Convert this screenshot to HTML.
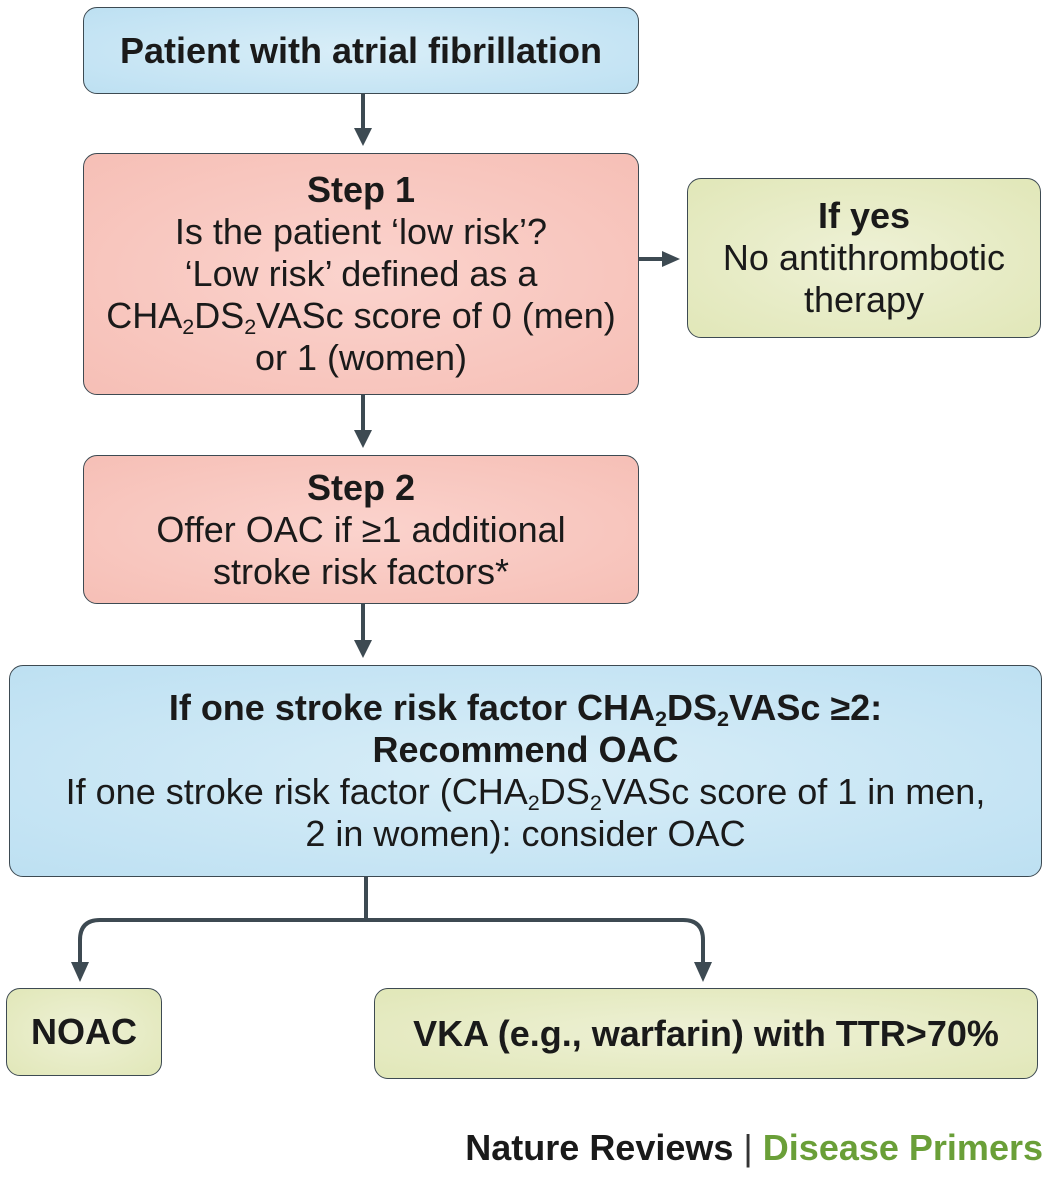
<!DOCTYPE html>
<html><head><meta charset="utf-8"><style>
body{margin:0;width:1050px;height:1177px;background:#fff;position:relative;overflow:hidden;font-family:"Liberation Sans",sans-serif;color:#1a1a1a}
.b{position:absolute;box-sizing:border-box;border:1.5px solid #3d4a52;border-radius:14px;display:flex;justify-content:center;align-items:center;text-align:center;font-size:36px;line-height:42px}
.b>div{white-space:nowrap}
.blue{background:radial-gradient(ellipse at center,#d9eef8,#bde0f2)}
.pink{background:radial-gradient(ellipse at center,#fbd3cd,#f6bfb6)}
.green{background:radial-gradient(ellipse at center,#eef1d6,#e1e7b8)}
b{font-weight:bold}
sub{font-size:60%;vertical-align:-6px;line-height:0}
</style></head><body>
<div class="b blue" style="left:83px;top:7px;width:556px;height:87px"><div><b>Patient with atrial fibrillation</b></div></div>
<div class="b pink" style="left:83px;top:153px;width:556px;height:242px"><div><b>Step 1</b><br>Is the patient ‘low risk’?<br>‘Low risk’ defined as a<br>CHA<sub>2</sub>DS<sub>2</sub>VASc score of 0 (men)<br>or 1 (women)</div></div>
<div class="b green" style="left:687px;top:178px;width:354px;height:160px"><div><b>If yes</b><br>No antithrombotic<br>therapy</div></div>
<div class="b pink" style="left:83px;top:455px;width:556px;height:149px"><div><b>Step 2</b><br>Offer OAC if ≥1 additional<br>stroke risk factors*</div></div>
<div class="b blue" style="left:9px;top:665px;width:1033px;height:212px"><div><b>If one stroke risk factor CHA<sub>2</sub>DS<sub>2</sub>VASc ≥2:<br>Recommend OAC</b><br>If one stroke risk factor (CHA<sub>2</sub>DS<sub>2</sub>VASc score of 1 in men,<br>2 in women): consider OAC</div></div>
<div class="b green" style="left:6px;top:988px;width:156px;height:88px"><div><b>NOAC</b></div></div>
<div class="b green" style="left:374px;top:988px;width:664px;height:91px"><div><b>VKA (e.g., warfarin) with TTR&gt;70%</b></div></div>
<div style="position:absolute;right:7px;top:1127px;font-size:36px;font-weight:bold;white-space:nowrap"><span style="color:#1a1a1a">Nature Reviews</span> <span style="font-weight:normal;color:#333">|</span> <span style="color:#6a9f38">Disease Primers</span></div>
<svg width="1050" height="1177" style="position:absolute;left:0;top:0" fill="#3d4a52" stroke="#3d4a52">
<g stroke-width="4" fill="none">
<line x1="363" y1="94" x2="363" y2="130"/>
<line x1="363" y1="395" x2="363" y2="432"/>
<line x1="363" y1="604" x2="363" y2="642"/>
<line x1="639" y1="259" x2="664" y2="259"/>
<line x1="366" y1="877" x2="366" y2="920"/>
<path d="M80 968 V940 Q80 920 100 920 H683 Q703 920 703 940 V968"/>
</g>
<g stroke="none">
<polygon points="354,128 372,128 363,146"/>
<polygon points="354,430 372,430 363,448"/>
<polygon points="354,640 372,640 363,658"/>
<polygon points="662,251 662,267 680,259"/>
<polygon points="71,962 89,962 80,982"/>
<polygon points="694,962 712,962 703,982"/>
</g>
</svg>
</body></html>
